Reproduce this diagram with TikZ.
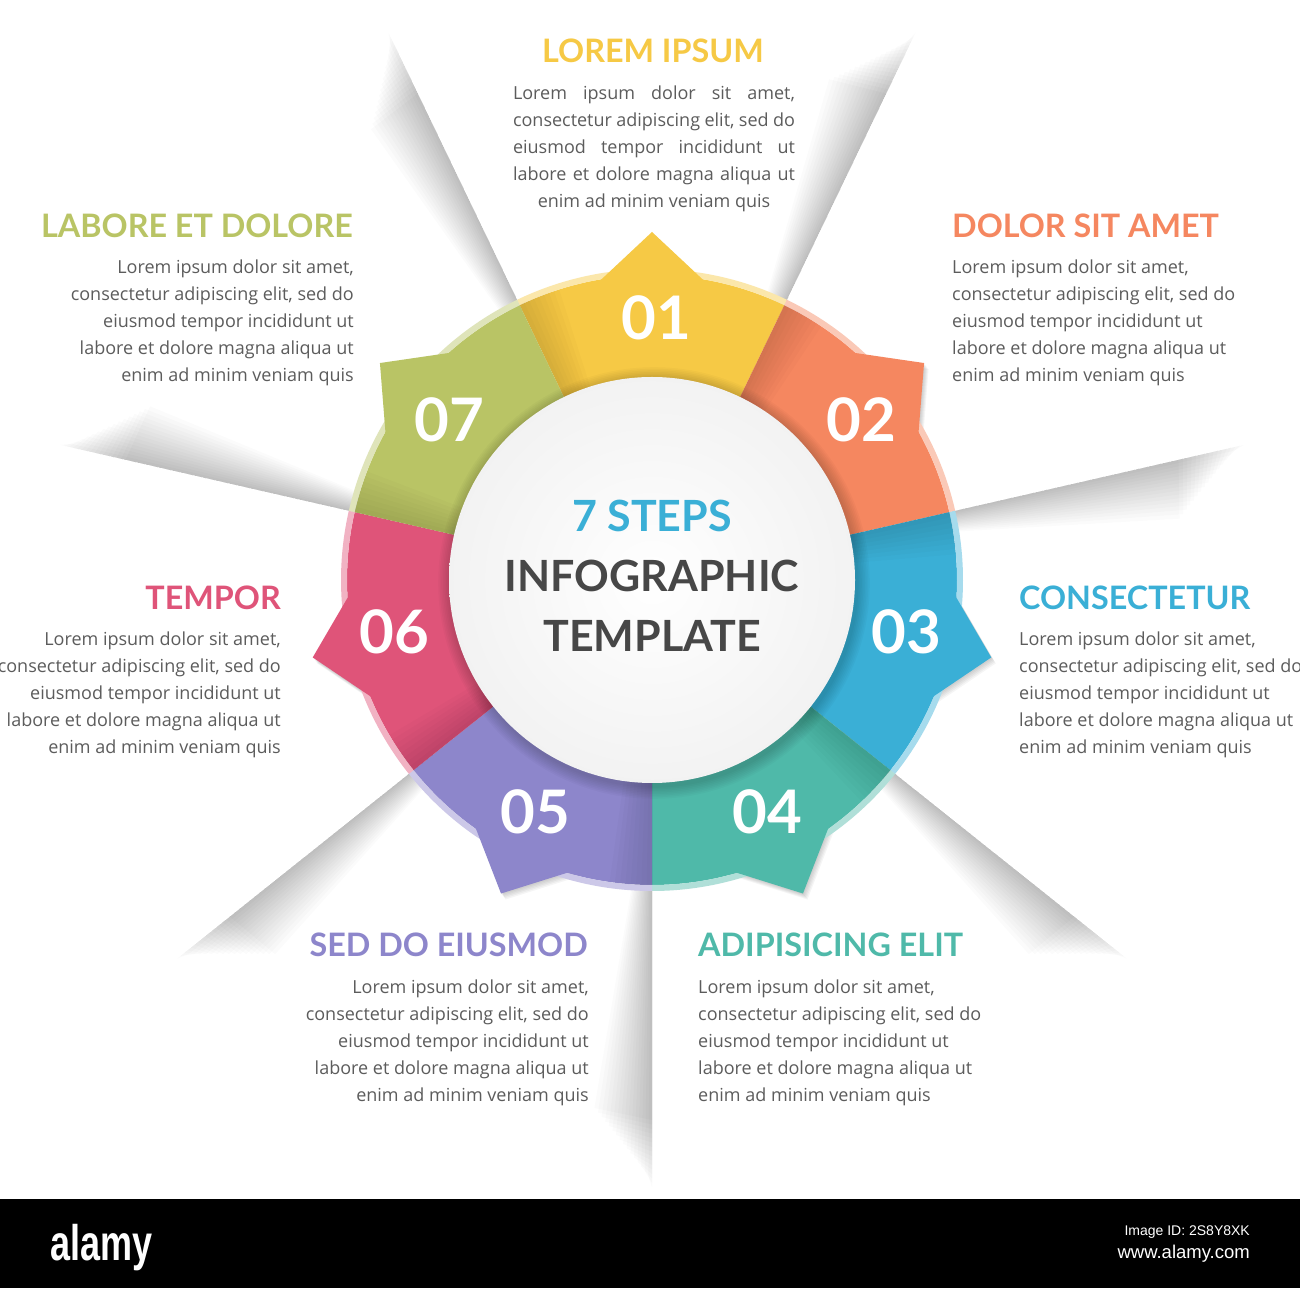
\documentclass[tikz,border=0pt]{standalone}
\usepackage{fontspec}
\setmainfont{Open Sans}
\newfontfamily\lato{Lato}
\newfontfamily\alamyfont[FakeStretch=0.72]{Liberation Sans}
\newfontfamily\alamysmall{Liberation Sans}
\definecolor{cA}{HTML}{F6C945}
\definecolor{cB}{HTML}{F58760}
\definecolor{cC}{HTML}{3AAFD6}
\definecolor{cD}{HTML}{4FB9A9}
\definecolor{cE}{HTML}{8D86CB}
\definecolor{cF}{HTML}{DF5479}
\definecolor{cG}{HTML}{B9C465}
\definecolor{bodygray}{HTML}{5C5C5C}
\definecolor{darktitle}{HTML}{474747}
\begin{document}
\begin{tikzpicture}[x=1pt,y=1pt,
  head/.style={font=\lato\bfseries\fontsize{32.3}{32.3}\selectfont, inner sep=0pt},
  bodytext/.style={font=\fontsize{18}{27}\selectfont, text=bodygray, inner sep=0pt},
  numtxt/.style={font=\lato\bfseries\fontsize{60}{60}\selectfont, text=white, inner sep=0pt},
  centertxt/.style={font=\lato\bfseries\fontsize{43}{43}\selectfont, inner sep=0pt},
  shadowlayer/.style={fill=black, fill opacity=0.014},
]
\useasboundingbox (0,0) rectangle (1300,1288);
\fill[white] (0,0) rectangle (1300,1288);
\coordinate (C) at (652,708);

% shadow rays
\foreach \t/\s in {64.29/1, 12.86/-1, -38.57/-1, -90/-1, -141.43/1, 167.14/-1, 115.71/1}{
  \begin{scope}[shift={(652,708)}, rotate=\t]
    \foreach \i in {1,...,16}{
      \fill[shadowlayer] (300,0) -- ({612-4.5*\i},0) -- ({600-4.5*\i},{\s*3.6*\i}) -- (300,{\s*1.2*\i}) -- cycle;
    }
  \end{scope}
}

\begin{scope}[shift={(652,708)}]
% shadows of the arrow tips
\foreach \k in {0,...,6}{
  \pgfmathsetmacro\a{90-51.42857*\k}
  \foreach \j in {1,...,5}{
    \fill[black, fill opacity=0.04, shift={(0.9*\j,-1.2*\j)}] ({\a-15}:288) -- (\a:348) -- ({\a+15}:288) -- cycle;
  }
}
% ring sectors
\foreach \k/\col in {0/cA,1/cB,2/cC,3/cD,4/cE,5/cF,6/cG}{
  \pgfmathsetmacro\a{90-51.42857*\k}
  \pgfmathsetmacro\lo{\a-25.714285}
  \pgfmathsetmacro\hi{\a+25.714285}
  \fill[\col] (0,0) -- (\lo:305) arc[start angle=\lo, end angle=\hi, radius=305] -- cycle;
  \fill[\col!45!white] (\lo:305) arc[start angle=\lo, end angle=\hi, radius=305] -- (\hi:311) arc[start angle=\hi, end angle=\lo, radius=311] -- cycle;
  \foreach \d in {1,...,8}{
    \fill[black, fill opacity=0.016] (0,0) -- ({\hi-\d}:305) arc[start angle={\hi-\d}, end angle=\hi, radius=305] -- cycle;
  }
}
% arrow tips
\foreach \k/\col in {0/cA,1/cB,2/cC,3/cD,4/cE,5/cF,6/cG}{
  \pgfmathsetmacro\a{90-51.42857*\k}
  \fill[\col] ({\a-15}:288) -- (\a:348) -- ({\a+15}:288) -- cycle;
}
% center circle
\foreach \i in {1,...,8}{
  \fill[black, fill opacity=0.022] (2,-3) circle[radius={203+1.6*\i}];
}
\shade[inner color=white, outer color=black!5] (0,0) circle[radius=203];
\end{scope}

% numbers
\node[numtxt] (num1) at (656,970) {01};
\node[numtxt] (num2) at (861,868) {02};
\node[numtxt] (num3) at (906,656) {03};
\node[numtxt] (num4) at (767,476) {04};
\node[numtxt] (num5) at (535,476) {05};
\node[numtxt] (num6) at (394,656) {06};
\node[numtxt] (num7) at (449,868) {07};

\node[centertxt, text=cC, anchor=base] (t1) at (652,756) {7 STEPS};
\node[centertxt, text=darktitle, anchor=base] (t2) at (652,696) {INFOGRAPHIC};
\node[centertxt, text=darktitle, anchor=base] (t3) at (652,636) {TEMPLATE};

% headings
\node[head, text=cA, anchor=base] (h1) at (653,1225) {LOREM IPSUM};
\node[head, text=cB, anchor=base west] (h2) at (952,1050) {DOLOR SIT AMET};
\node[head, text=cC, anchor=base west] (h3) at (1019,678) {CONSECTETUR};
\node[head, text=cD, anchor=base west] (h4) at (698,331) {ADIPISICING ELIT};
\node[head, text=cE, anchor=base east] (h5) at (588,331) {SED DO EIUSMOD};
\node[head, text=cF, anchor=base east] (h6) at (281,678) {TEMPOR};
\node[head, text=cG, anchor=base east] (h7) at (353,1050) {LABORE ET DOLORE};

% bodies
\node[bodytext, anchor=north, align=center] (b1) at (654,1202) {\makebox[282pt][s]{Lorem ipsum dolor sit amet,}\\\makebox[282pt][s]{consectetur adipiscing elit, sed do}\\\makebox[282pt][s]{eiusmod tempor incididunt ut}\\\makebox[282pt][s]{labore et dolore magna aliqua ut}\\enim ad minim veniam quis};
\node[bodytext, anchor=north west, align=left] (b2) at (952,1028) {Lorem ipsum dolor sit amet,\\consectetur adipiscing elit, sed do\\eiusmod tempor incididunt ut\\labore et dolore magna aliqua ut\\enim ad minim veniam quis};
\node[bodytext, anchor=north west, align=left] (b3) at (1019,656) {Lorem ipsum dolor sit amet,\\consectetur adipiscing elit, sed do\\eiusmod tempor incididunt ut\\labore et dolore magna aliqua ut\\enim ad minim veniam quis};
\node[bodytext, anchor=north west, align=left] (b4) at (698,308) {Lorem ipsum dolor sit amet,\\consectetur adipiscing elit, sed do\\eiusmod tempor incididunt ut\\labore et dolore magna aliqua ut\\enim ad minim veniam quis};
\node[bodytext, anchor=north east, align=right] (b5) at (589,308) {Lorem ipsum dolor sit amet,\\consectetur adipiscing elit, sed do\\eiusmod tempor incididunt ut\\labore et dolore magna aliqua ut\\enim ad minim veniam quis};
\node[bodytext, anchor=north east, align=right] (b6) at (281,656) {Lorem ipsum dolor sit amet,\\consectetur adipiscing elit, sed do\\eiusmod tempor incididunt ut\\labore et dolore magna aliqua ut\\enim ad minim veniam quis};
\node[bodytext, anchor=north east, align=right] (b7) at (354,1028) {Lorem ipsum dolor sit amet,\\consectetur adipiscing elit, sed do\\eiusmod tempor incididunt ut\\labore et dolore magna aliqua ut\\enim ad minim veniam quis};

% bottom bar
\fill[black] (0,0) rectangle (1300,89);
\node[font=\alamyfont\bfseries\fontsize{50}{50}\selectfont, text=white, anchor=base west, inner sep=0pt] (logo) at (50,28) {alamy};
\node[font=\alamysmall\fontsize{14}{14}\selectfont, text=white, anchor=base east, inner sep=0pt] (imgid) at (1250,53) {Image ID: 2S8Y8XK};
\node[font=\alamysmall\fontsize{18.5}{18.5}\selectfont, text=white, anchor=base east, inner sep=0pt] (www) at (1250,30) {www.alamy.com};
\end{tikzpicture}
\end{document}
